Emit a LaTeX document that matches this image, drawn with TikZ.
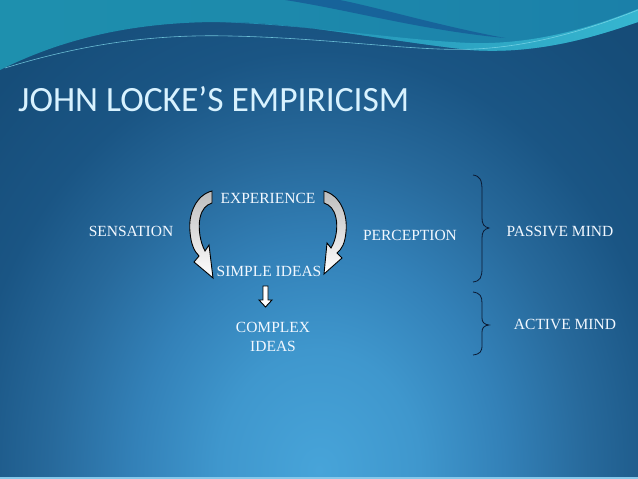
\documentclass[tikz,border=0pt]{standalone}
\usepackage{fontspec}
\setmainfont{Liberation Serif}
\newfontfamily\titlefont{Carlito}
\definecolor{bgA}{HTML}{47A4D9}
\definecolor{bgB}{HTML}{3F97CD}
\definecolor{bgC}{HTML}{3381B8}
\definecolor{bgD}{HTML}{27699B}
\definecolor{bgE}{HTML}{1A5584}
\definecolor{bgF}{HTML}{164D79}
\definecolor{bgG}{HTML}{123F66}
\definecolor{tealL}{HTML}{1E90AE}
\definecolor{tealR}{HTML}{1B80A9}
\definecolor{cyanL}{HTML}{1F8CB0}
\definecolor{cyanR}{HTML}{36B6D0}
\definecolor{swoosh}{HTML}{17639A}
\definecolor{thinline}{HTML}{7FD8EA}
\definecolor{bottomline}{HTML}{86C8EA}
\definecolor{titlec}{HTML}{D8F2FF}
\definecolor{txt}{HTML}{F2F8FF}
\definecolor{agray}{HTML}{BDBDBD}
\definecolor{bracec}{HTML}{0B1A33}
\pgfdeclareradialshading{bgshade}{\pgfpoint{0bp}{0bp}}{color(0bp)=(bgA); color(6bp)=(bgB); color(11bp)=(bgC); color(16bp)=(bgD); color(21bp)=(bgE); color(27bp)=(bgF); color(50bp)=(bgG)}
\tikzset{
  lbl/.style={text=txt, font=\fontsize{15.5}{19}\selectfont, inner sep=0pt},
  blockarrow/.style={draw=black, line width=0.9pt, line join=miter, top color=agray, bottom color=white},
  downarrow/.style={draw=black, line width=0.9pt, fill=white},
  bracestyle/.style={draw=bracec, line width=0.8pt}
}
\begin{document}
\begin{tikzpicture}[x=1pt,y=-1pt]
\useasboundingbox (0,0) rectangle (638,479);
\begin{scope}
\clip (0,0) rectangle (638,479);
\shade[shading=bgshade] (-101,-30) rectangle (739,970);
% top teal region
\shade[left color=tealL, right color=tealR] (0,0) -- (0,70) .. controls (60,40) and (130,22) .. (220,22) .. controls (300,22) and (380,40) .. (470,50) .. controls (540,55) and (600,35) .. (638,22) -- (638,0) -- cycle;
% cyan band
\shade[left color=cyanL, right color=cyanR] (220,22) .. controls (320,26) and (400,40) .. (470,43) .. controls (540,45) and (600,24) .. (638,9) -- (638,22) .. controls (600,35) and (540,55) .. (470,50) .. controls (380,40) and (300,22) .. (220,22) -- cycle;
% dark swoosh
\fill[swoosh] (285,0) .. controls (350,10) and (420,30) .. (505,38) .. controls (440,26) and (380,8) .. (340,0) -- cycle;
% thin light line
\draw[thinline, line width=0.6pt, opacity=0.8] (5,68) .. controls (80,45) and (150,34) .. (230,36) .. controls (330,38) and (420,52) .. (475,49) .. controls (540,46) and (600,25) .. (638,10);
\fill[bottomline] (0,477) rectangle (638,479);
\end{scope}

% title
\node[font=\titlefont\fontsize{35.5}{40}\selectfont, text=titlec, anchor=base west, inner sep=0pt] (title) at (18,111) {JOHN LOCKE’S EMPIRICISM};

% labels
\node[lbl] (exp) at (268,198) {EXPERIENCE};
\node[lbl] (sen) at (131,231) {SENSATION};
\node[lbl] (per) at (410,235) {PERCEPTION};
\node[lbl] (pas) at (560,231) {PASSIVE MIND};
\node[lbl] (sim) at (269,271) {SIMPLE IDEAS};
\node[lbl, align=center] (com) at (273,336.5) {COMPLEX\\IDEAS};
\node[lbl] (act) at (565,324) {ACTIVE MIND};

% left curved arrow
\path[blockarrow] (212,191) .. controls (196,195) and (188,214) .. (190,232) .. controls (191,244) and (194,251) .. (199,256) -- (194,262) -- (213,278) -- (209,245) -- (205,251) .. controls (200,242) and (198,228) .. (200,218) .. controls (202,209) and (206,205) .. (212,203) -- cycle;
% right curved arrow
\path[blockarrow] (324,191) .. controls (340,195) and (348,214) .. (346,232) .. controls (345,243) and (342,249) .. (337,253) -- (342,258) -- (324,274) -- (327,243) -- (331,248) .. controls (336,240) and (338,228) .. (336,218) .. controls (334,209) and (330,205) .. (324,203) -- cycle;
% down arrow
\path[downarrow] (263,286) -- (268,286) -- (268,300) -- (272,300) -- (265.5,307) -- (259,300) -- (263,300) -- cycle;

% braces
\path[bracestyle] (473,175) .. controls (480,176) and (482,180) .. (482,190) -- (482,218) .. controls (482,224) and (484,227) .. (489,228) .. controls (484,229) and (482,232) .. (482,238) -- (482,268) .. controls (482,278) and (480,281) .. (473,282);
\path[bracestyle] (473,292) .. controls (480,293) and (482,296) .. (482,303) -- (482,318) .. controls (482,322) and (484,324.5) .. (489,325) .. controls (484,325.5) and (482,328) .. (482,332) -- (482,345) .. controls (482,352) and (480,354) .. (473,355);
\end{tikzpicture}
\end{document}
